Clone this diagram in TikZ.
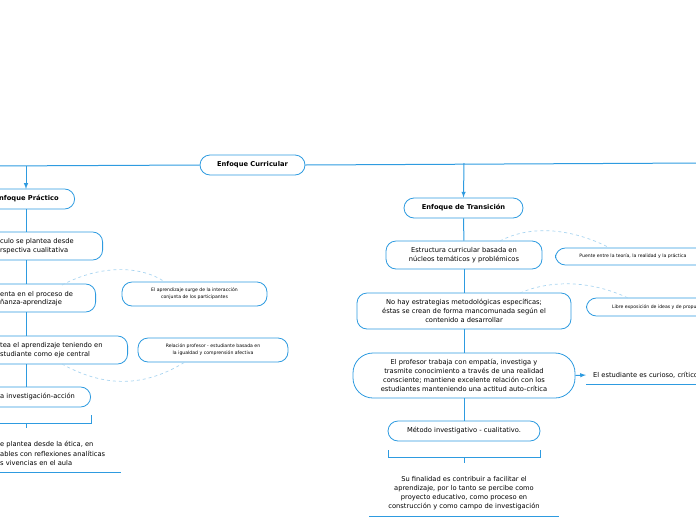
\documentclass[tikz,border=0pt]{standalone}
\usepackage{fontspec}
\setmainfont{DejaVu Sans}
\begin{document}
\begin{tikzpicture}[x=1pt,y=-1pt,
  box/.style={draw=bl,line width=0.8pt,rounded corners=10pt,fill=white,align=center,font=\fontsize{6.7}{9}\selectfont,inner sep=0pt},
  sbox/.style={box,font=\fontsize{4.6}{7}\selectfont},
  ln/.style={draw=bl,line width=1pt},
  dsh/.style={draw=lb,dashed,line width=0.7pt},
  txt/.style={align=center,font=\fontsize{6.7}{9}\selectfont,inner sep=0pt},
  lt/.style={txt,anchor=west}]
\definecolor{bl}{HTML}{2E9BE0}
\definecolor{lb}{HTML}{A8D4F0}
\useasboundingbox (0,0) rectangle (696,520);
\clip (0,0) rectangle (696,520);
% trunk lines
\coordinate (L) at (-5,166);
\coordinate (R) at (701,163);
\node[box,minimum width=105pt,minimum height=20pt,font=\fontsize{6.7}{9}\selectfont\bfseries] (ec) at (252.5,165) {Enfoque Curricular};
\draw[ln] (ec.west) -- (L);
\draw[ln] (ec.east) -- (R);
% left column boxes
\node[box,minimum width=115pt,minimum height=20pt,anchor=east] (ep) at (75,199) {};
\node[lt,font=\fontsize{6.7}{9}\selectfont\bfseries] (ept) at (-1,199) {nfoque Práctico};
\node[box,minimum width=140pt,minimum height=28pt,anchor=east] (a1) at (103,246) {};
\node[lt] (a1t) at (0,242) {culo se plantea desde};
\node[lt] (a1u) at (0,251) {rspectiva cualitativa};
\node[box,minimum width=140pt,minimum height=28pt,anchor=east] (a2) at (96,298) {};
\node[lt] (a2t) at (0,294.5) {enta en el proceso de};
\node[lt] (a2u) at (0,303) {ñanza-aprendizaje};
\node[box,minimum width=170pt,minimum height=28pt,anchor=east] (a3) at (128,350) {};
\node[lt] (a3t) at (0,346) {tea el aprendizaje teniendo en};
\node[lt] (a3u) at (0,355) {studiante como eje central};
\node[box,minimum width=140pt,minimum height=20pt,anchor=east] (a4) at (91,397) {};
\node[lt] (a4t) at (0,397) {a investigación-acción};
\draw[ln] (26,166) -- (26,183);
\draw[ln,-latex] (26,180) -- (26,189);
\draw[ln] (26,209) -- (26,232);
\draw[ln] (26,260) -- (26,284);
\draw[ln] (26,312) -- (26,336);
\draw[ln] (26,364) -- (26,387);
\draw[ln] (0,423) -- (91,423) -- (91,415);
\draw[ln] (26,423) -- (26,428);
\node[lt] (a5a) at (0,445) {e plantea desde la ética, en};
\node[lt] (a5b) at (0,454) {ables con reflexiones analíticas};
\node[lt] (a5c) at (0,463) {s vivencias en el aula};
\draw[ln] (0,472) -- (121,472);
\node[sbox,minimum width=145pt,minimum height=24pt] (s1) at (194.5,294) {El aprendizaje surge de la interacción\\conjunta de los participantes};
\node[sbox,minimum width=150pt,minimum height=24pt] (s2) at (213,350) {Relación profesor - estudiante basada en\\la igualdad y comprensión afectiva};
\draw[dsh] (62,285) .. controls (100,265) and (140,265) .. (165,282);
\draw[dsh] (62,364) .. controls (100,385) and (140,390) .. (185,362);
% right column
\node[box,minimum width=119pt,minimum height=20pt,font=\fontsize{6.7}{9}\selectfont\bfseries] (et) at (463.5,208) {Enfoque de Transición};
\draw[ln,-latex] (464,163) -- (et.north);
\node[box,minimum width=156pt,minimum height=28pt] (b1n) at (464,255) {Estructura curricular basada en\\núcleos temáticos y problémicos};
\node[box,minimum width=214pt,minimum height=36pt] (b2n) at (464,311) {No hay estrategias metodológicas específicas;\\éstas se crean de forma mancomunada según el\\contenido a desarrollar};
\node[box,minimum width=222pt,minimum height=45pt,rounded corners=20pt] (b3n) at (464,375.5) {El profesor trabaja con empatía, investiga y\\trasmite conocimiento a través de una realidad\\consciente; mantiene excelente relación con los\\estudiantes manteniendo una actitud auto-crítica};
\node[box,minimum width=152pt,minimum height=20pt] (b4n) at (464,431) {Método investigativo - cualitativo.};
\draw[ln] (et) -- (b1n);
\draw[ln] (b1n) -- (b2n);
\draw[ln] (b2n) -- (b3n);
\draw[ln] (b3n) -- (b4n);
\draw[ln] (388,450) -- (388,457) -- (540,457) -- (540,450);
\draw[ln] (464,457) -- (464,463);
\node[txt] (b5n) at (464,493) {Su finalidad es contribuir a facilitar el\\aprendizaje, por lo tanto se percibe como\\proyecto educativo, como proceso en\\construcción y como campo de investigación};
\draw[ln] (369,516) -- (559,516);
\node[sbox,minimum width=160pt,minimum height=17pt,anchor=west] (r1) at (555,256.5) {\hspace*{15pt}Puente entre la teoría, la realidad y la práctica\hspace*{20pt}};
\node[sbox,minimum width=140pt,minimum height=18pt,anchor=west] (r2) at (586,307) {\hspace*{8pt}Libre exposición de ideas y de propuestas};
\draw[dsh] (500,241) .. controls (530,225) and (570,228) .. (608,247);
\draw[dsh] (520,293) .. controls (550,280) and (590,280) .. (628,298);
\node[txt,anchor=west] (r3) at (593,375) {El estudiante es curioso, crítico};
\draw[ln,-latex] (b3n.east) -- (586,375);
\draw[ln] (586,384) -- (701,384);
\end{tikzpicture}
\end{document}
